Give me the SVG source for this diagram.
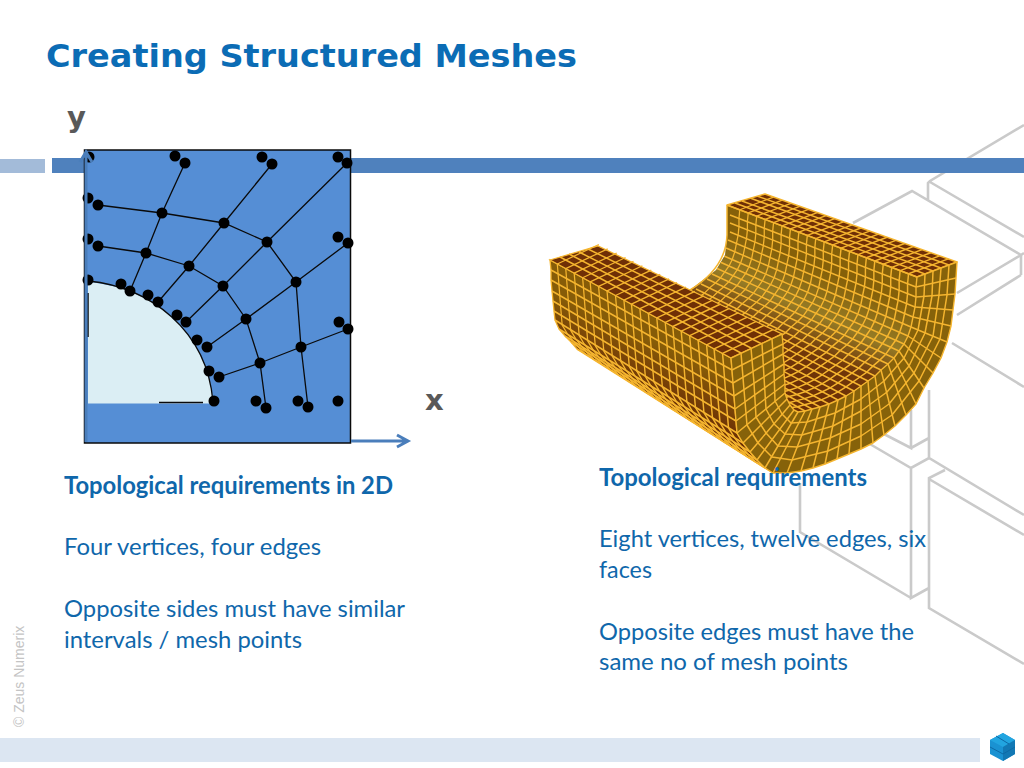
<svg xmlns="http://www.w3.org/2000/svg" xmlns:xlink="http://www.w3.org/1999/xlink" width="1024" height="768" viewBox="0 0 1024 768">
<style>
.g{fill:none;stroke:#cacaca;stroke-width:2.6;stroke-linejoin:miter}
.m{fill:none;stroke:#f5b52f;stroke-width:1.5;stroke-linejoin:round}
.k{fill:none;stroke:#0a0a0a;stroke-width:1.3}
.d{fill:#000}
.t{font-family:"Lato","Carlito","Liberation Sans",sans-serif;font-size:24px;fill:#0f67ab}
.b{font-weight:700}
.a{fill:none;stroke:#4a7ebb;stroke-width:3}
.ax{font-family:"DejaVu Sans",sans-serif;font-weight:700;font-size:29px;fill:#595959}
</style>
<defs>
<linearGradient id="chan" gradientUnits="userSpaceOnUse" x1="825" y1="395" x2="870" y2="290">
<stop offset="0" stop-color="#6c3006"/><stop offset=".3" stop-color="#71380a"/><stop offset=".62" stop-color="#957b26"/><stop offset="1" stop-color="#856009"/>
</linearGradient>
<linearGradient id="lft" gradientUnits="userSpaceOnUse" x1="650" y1="340" x2="625" y2="392">
<stop offset="0" stop-color="#865c08"/><stop offset=".45" stop-color="#7a4507"/><stop offset="1" stop-color="#672a04"/>
</linearGradient>
<clipPath id="chc"><polygon points="727,205 765,194 957,262 917,277 916,287 916,297 915,307 913,317 911,327 908,336 904,344 899,351 894,358 888,364 881,370 875,376 868,381 861,386 854,391 846,396 838,400 829,404 820,407 812,409 805,411 798,412 794,410 790,405 787,399 785,393 782,334 690,290 716,270 725,255 727,235"/></clipPath>
<polyline id="si" points="785,393 787,399 790,405 794,410 798,412 805,411 812,409 820,407 829,404 838,400 846,396 854,391 861,386 868,381 875,376 881,370 888,364 894,358 899,351 904,344 908,336 911,327 913,317 915,307 916,297 916,287 917,277 957,262"/>
<polyline id="so" points="782,334 731,358 732,370 733,383 734,396 735,409 736,421 737,433 743,443 750,452 757,460 765,468 773,473"/>
</defs>
<rect width="1024" height="768" fill="#fff"/>
<g id="background-lines">
<path class="g" d="M1024,125 L930,181 L928,183 V200 M930,182 L1024,237 M853,223 L912,191 L1021,255 L1024,253 M1021,255 V275 M1021,255 L957,293 M1021,275 L957,315 M952,343 L1024,387"/>
<path class="g" d="M929,390 V458 M911,410 V448 L880,432 M911,448 L929,438 M863,440 L911,468 L929,458 L1024,515 M911,468 V598 L929,588 M800,483 V532 L911,598 M945,470 L929,478 V608 L1024,664 M929,479 L1024,535"/>
</g>
<rect id="bar-small" x="0" y="159" width="45" height="14" fill="#a3bbd9"/>
<rect id="bar-main" x="52" y="158" width="972" height="15" fill="#4f81bd"/>
<rect id="band-bottom" x="0" y="738" width="980" height="24" fill="#dce6f2"/>
<g id="logo-cube">
<polygon points="1003,733 1015,740 1015,754 1003,761 990,754 990,740" fill="#1a92d2"/>
<polygon points="1003,733 1015,740 1003,747 990,740" fill="#22a5e0"/>
<polygon points="1003,747 1015,740 1015,754 1003,761" fill="#1278b4"/>
<path d="M996,736 L1009,744 M990,747 L1003,754 M1003,754 L1015,747" stroke="#0d6aa6" stroke-width="1" fill="none"/>
</g>
<text id="title" x="46" y="67" font-family="'DejaVu Sans',sans-serif" font-weight="700" font-size="32" fill="#0b6cb5" textLength="531" lengthAdjust="spacingAndGlyphs">Creating Structured Meshes</text>
<text id="axis-y" class="ax" x="67" y="127">y</text>
<text id="axis-x" class="ax" x="425" y="410">x</text>

<g id="mesh-2d">
<rect x="84.5" y="150" width="266" height="293" fill="#558ed5" stroke="#0a0a0a" stroke-width="1.5"/>
<path d="M88,282 C150,287 207,330 213,402 L213,403.5 L88,403.5 Z" fill="#dbeef4"/>
<path class="k" d="M88,281 C150,287 207,330 213,402"/>
<path d="M159,402.5 H203 M88,293 V337" stroke="#0a0a0a" stroke-width="1.5" fill="none"/>
<g id="mesh-2d-lines">
<path class="k" d="M185,163 L162,213 L146,253 L130,291 M272,164 L224,223 L189,266 L158,302 M347,163 L267,242 L223,286 L186,322 M98,205 L162,213 L224,223 L267,242 L296,282 L301,347 L308,407 M98,246 L146,253 L189,266 L223,286 L246,319 L260,363 L266,408 M348,243 L296,282 L246,319 L207,347 M348,329 L301,347 L260,363 L219,377"/>
</g>
<g id="mesh-2d-points" class="d">
<circle cx="89" cy="157" r="5.5"/><circle cx="175" cy="156" r="5.5"/><circle cx="185" cy="163" r="5.5"/><circle cx="262" cy="157" r="5.5"/><circle cx="272" cy="164" r="5.5"/><circle cx="338" cy="157" r="5.5"/><circle cx="347" cy="163" r="5.5"/>
<circle cx="88" cy="198" r="5.5"/><circle cx="98" cy="205" r="5.5"/><circle cx="88" cy="239" r="5.5"/><circle cx="98" cy="246" r="5.5"/><circle cx="88" cy="280" r="5.5"/>
<circle cx="121" cy="284" r="5.5"/><circle cx="130" cy="291" r="5.5"/><circle cx="148" cy="295" r="5.5"/><circle cx="158" cy="302" r="5.5"/><circle cx="177" cy="315" r="5.5"/><circle cx="186" cy="322" r="5.5"/><circle cx="197" cy="340" r="5.5"/><circle cx="207" cy="347" r="5.5"/><circle cx="209" cy="371" r="5.5"/><circle cx="219" cy="377" r="5.5"/><circle cx="214" cy="401" r="5.5"/>
<circle cx="256" cy="401" r="5.5"/><circle cx="266" cy="408" r="5.5"/><circle cx="298" cy="401" r="5.5"/><circle cx="308" cy="407" r="5.5"/><circle cx="338" cy="401" r="5.5"/>
<circle cx="338" cy="237" r="5.5"/><circle cx="348" cy="243" r="5.5"/><circle cx="339" cy="322" r="5.5"/><circle cx="348" cy="329" r="5.5"/>
<circle cx="162" cy="213" r="5.5"/><circle cx="224" cy="223" r="5.5"/><circle cx="267" cy="242" r="5.5"/><circle cx="146" cy="253" r="5.5"/><circle cx="189" cy="266" r="5.5"/><circle cx="223" cy="286" r="5.5"/><circle cx="296" cy="282" r="5.5"/><circle cx="246" cy="319" r="5.5"/><circle cx="301" cy="347" r="5.5"/><circle cx="260" cy="363" r="5.5"/>
</g>
</g>
<g id="axes">
<path class="a" d="M86,442 V153 M80,162 L86,152 L92,162"/>
<path class="a" d="M351,441 H407 M397,435 L408,441 L397,447"/>
</g>

<g id="mesh-3d">
<g id="channel" clip-path="url(#chc)">
<rect x="680" y="190" width="280" height="230" fill="url(#chan)"/>
<polygon points="727,205 765,194 957,262 917,277" fill="#6f2f06"/>
<g class="m">
<use href="#si" transform="translate(-208 -150) scale(.9925) translate(208 150)"/><use href="#si" transform="translate(-208 -150) scale(.985) translate(208 150)"/><use href="#si" transform="translate(-208 -150) scale(.9775) translate(208 150)"/><use href="#si" transform="translate(-208 -150) scale(.97) translate(208 150)"/><use href="#si" transform="translate(-208 -150) scale(.9625) translate(208 150)"/><use href="#si" transform="translate(-208 -150) scale(.955) translate(208 150)"/><use href="#si" transform="translate(-208 -150) scale(.9475) translate(208 150)"/><use href="#si" transform="translate(-208 -150) scale(.94) translate(208 150)"/><use href="#si" transform="translate(-208 -150) scale(.9325) translate(208 150)"/><use href="#si" transform="translate(-208 -150) scale(.925) translate(208 150)"/><use href="#si" transform="translate(-208 -150) scale(.9175) translate(208 150)"/><use href="#si" transform="translate(-208 -150) scale(.91) translate(208 150)"/><use href="#si" transform="translate(-208 -150) scale(.9025) translate(208 150)"/><use href="#si" transform="translate(-208 -150) scale(.895) translate(208 150)"/><use href="#si" transform="translate(-208 -150) scale(.8875) translate(208 150)"/><use href="#si" transform="translate(-208 -150) scale(.88) translate(208 150)"/><use href="#si" transform="translate(-208 -150) scale(.8725) translate(208 150)"/><use href="#si" transform="translate(-208 -150) scale(.865) translate(208 150)"/><use href="#si" transform="translate(-208 -150) scale(.8575) translate(208 150)"/><use href="#si" transform="translate(-208 -150) scale(.85) translate(208 150)"/><use href="#si" transform="translate(-208 -150) scale(.8425) translate(208 150)"/>
<path d="M805,411L638,318M812,409L644,317M820,407L650,315M829,404L658,313M838,400L665,309M846,396L672,306M854,391L679,302M861,386L685,298M868,381L690,293M875,376L696,289M881,370L701,284M888,364L707,279M894,358L712,274M899,351L716,268M904,344L720,262M908,336L724,256M911,327L726,248M913,317L728,240M915,307L730,232M916,297L730,223M916,287L730,215"/>
<path d="M735,203L925,274M742,201L933,271M750,198L941,268M757,196L949,265"/>
<path d="M727,205L917,277"/>
</g>
</g>
<polygon class="m" points="727,205 765,194 957,262 917,277"/>
<path class="m" d="M727,205 V235 Q726,268 690,290"/>

<g id="left-side">
<polygon points="731,358 732,370 733,383 734,396 735,409 736,421 737,433 743,443 750,452 757,460 765,468 773,473 584,353 577,349 571,342 565,336 559,329 555,320 554,311 553,301 552,291 551,280 551,270 550,260" fill="url(#lft)" stroke="#f5b52f" stroke-width="1.3"/>
<polygon points="550,260 598,246 782,334 731,358" fill="#6f2f06" stroke="#f5b52f" stroke-width="1.3"/>
<g class="m">
<use href="#so" transform="translate(-208 -150) scale(.991) translate(208 150)"/><use href="#so" transform="translate(-208 -150) scale(.982) translate(208 150)"/><use href="#so" transform="translate(-208 -150) scale(.974) translate(208 150)"/><use href="#so" transform="translate(-208 -150) scale(.965) translate(208 150)"/><use href="#so" transform="translate(-208 -150) scale(.956) translate(208 150)"/><use href="#so" transform="translate(-208 -150) scale(.947) translate(208 150)"/><use href="#so" transform="translate(-208 -150) scale(.938) translate(208 150)"/><use href="#so" transform="translate(-208 -150) scale(.93) translate(208 150)"/><use href="#so" transform="translate(-208 -150) scale(.921) translate(208 150)"/><use href="#so" transform="translate(-208 -150) scale(.912) translate(208 150)"/><use href="#so" transform="translate(-208 -150) scale(.903) translate(208 150)"/><use href="#so" transform="translate(-208 -150) scale(.894) translate(208 150)"/><use href="#so" transform="translate(-208 -150) scale(.886) translate(208 150)"/><use href="#so" transform="translate(-208 -150) scale(.877) translate(208 150)"/><use href="#so" transform="translate(-208 -150) scale(.868) translate(208 150)"/><use href="#so" transform="translate(-208 -150) scale(.859) translate(208 150)"/><use href="#so" transform="translate(-208 -150) scale(.85) translate(208 150)"/><use href="#so" transform="translate(-208 -150) scale(.842) translate(208 150)"/><use href="#so" transform="translate(-208 -150) scale(.833) translate(208 150)"/><use href="#so" transform="translate(-208 -150) scale(.824) translate(208 150)"/><use href="#so" transform="translate(-208 -150) scale(.815) translate(208 150)"/>
<path d="M560,257L741,353M569,254L751,348M579,252L762,344M588,249L772,339"/>
<path d="M732,370L551,270M733,383L551,280M734,396L552,291M735,409L553,301M736,421L554,311M737,433L555,320M743,443L559,329M750,452L565,336M757,460L571,342M765,468L577,349"/>
</g>
</g>

<g id="end-face">
<polygon points="731,358 732,370 733,383 734,396 735,409 736,421 737,433 743,443 750,452 757,460 765,468 773,473 787,473 801,471 813,468 825,464 837,459 849,454 861,449 873,443 884,435 895,426 906,415 916,404 924,388 933,373 941,358 947,342 951,326 953,310 955,294 956,278 957,262 917,277 916,287 916,297 915,307 913,317 911,327 908,336 904,344 899,351 894,358 888,364 881,370 875,376 868,381 861,386 854,391 846,396 838,400 829,404 820,407 812,409 805,411 798,412 794,410 790,405 787,399 785,393 785,384 784,374 784,364 783,354 783,344 782,334" fill="#86620a" stroke="#f5b52f" stroke-width="1.4" stroke-linejoin="round"/>
<g class="m">
<polyline points="772,339 774,370 775,401 782,414 791,423 807,422 835,413 861,399 884,381 904,358 918,330 924,296 925,274"/>
<polyline points="762,344 764,377 766,409 774,424 785,434 802,435 833,426 861,411 887,392 909,366 925,333 932,296 933,271"/>
<polyline points="751,348 754,383 756,417 766,433 778,446 797,447 830,438 861,424 889,404 914,373 933,336 939,295 941,268"/>
<polyline points="741,353 744,390 747,425 758,443 772,457 792,460 828,451 861,436 892,415 919,381 940,339 947,295 949,265"/>
<path d="M783,344L732,370M783,354L733,383M784,364L734,396M784,374L735,409M785,384L736,421M785,393L737,433M787,399L743,443M790,405L750,452M794,410L757,460M798,412L765,468M805,411L773,473M812,409L787,473M820,407L801,471M829,404L813,468M838,400L825,464M846,396L837,459M854,391L849,454M861,386L861,449M868,381L873,443M875,376L884,435M881,370L895,426M888,364L906,415M894,358L916,404M899,351L924,388M904,344L933,373M908,336L941,358M911,327L947,342M913,317L951,326M915,307L953,310M916,297L955,294M916,287L956,278"/>
</g>
</g>
</g>

<g id="text-left">
<text class="t b" x="64" y="494" textLength="329" lengthAdjust="spacingAndGlyphs">Topological requirements in 2D</text>
<text class="t" x="64" y="555" textLength="257" lengthAdjust="spacingAndGlyphs">Four vertices, four edges</text>
<text class="t" x="64" y="617" textLength="341" lengthAdjust="spacingAndGlyphs">Opposite sides must have similar</text>
<text class="t" x="64" y="648" textLength="238" lengthAdjust="spacingAndGlyphs">intervals / mesh points</text>
</g>
<g id="text-right">
<text class="t b" x="599" y="486" textLength="268" lengthAdjust="spacingAndGlyphs">Topological requirements</text>
<text class="t" x="599" y="547" textLength="327" lengthAdjust="spacingAndGlyphs">Eight vertices, twelve edges, six</text>
<text class="t" x="599" y="578" textLength="53" lengthAdjust="spacingAndGlyphs">faces</text>
<text class="t" x="599" y="640" textLength="315" lengthAdjust="spacingAndGlyphs">Opposite edges must have the</text>
<text class="t" x="599" y="670" textLength="249" lengthAdjust="spacingAndGlyphs">same no of mesh points</text>
</g>
<text id="copyright" transform="translate(24 727) rotate(-90)" font-family="'Liberation Sans',sans-serif" font-size="14" fill="#c4c4c4">© Zeus Numerix</text>
</svg>
